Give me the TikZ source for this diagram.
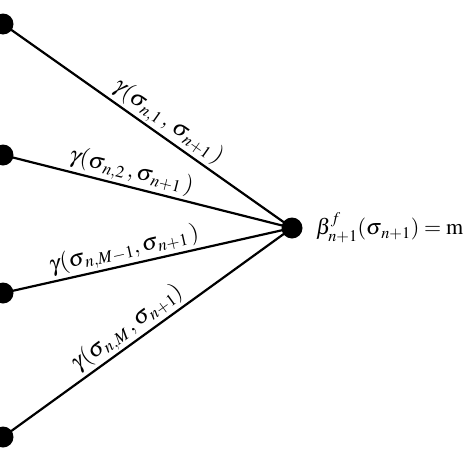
\documentclass[tikz,border=0pt]{standalone}
\usepackage{mathptmx}
\begin{document}
\begin{tikzpicture}[x=1pt,y=-1pt,
  dot/.style={circle,fill=black,inner sep=0pt,minimum size=21pt},
  edge/.style={line width=2.2pt},
  lab/.style={sloped,above,inner sep=2pt,font=\fontsize{23}{26}\selectfont}]
\useasboundingbox (0,0) rectangle (469,469);
\node[dot] (a1) at (3,24) {};
\node[dot] (a2) at (3,155) {};
\node[dot] (a3) at (3,293) {};
\node[dot] (a4) at (3,437) {};
\node[dot] (c) at (292,228) {};
\draw[edge] (a1.center) -- node[lab,pos=0.54] {$\gamma(\sigma_{\,n,1}\,,\,\sigma_{\,n+1}\,)$} (c.center);
\draw[edge] (a2.center) -- node[lab,pos=0.43] {$\gamma(\sigma_{\,n,2}\,,\sigma_{\,n+1}\,)$} (c.center);
\draw[edge] (a3.center) -- node[lab,pos=0.43] {$\gamma(\sigma_{\,n,M-1},\sigma_{\,n+1}\,)$} (c.center);
\draw[edge] (a4.center) -- node[lab,pos=0.46] {$\gamma(\sigma_{\,n,M}\,,\sigma_{\,n+1})$} (c.center);
\node[anchor=west,inner sep=0pt,font=\fontsize{22}{25}\selectfont] (t) at (316,228) {$\beta^{f}_{n+1}(\sigma_{\,n+1})=\mathrm{m}$};
\end{tikzpicture}
\end{document}
